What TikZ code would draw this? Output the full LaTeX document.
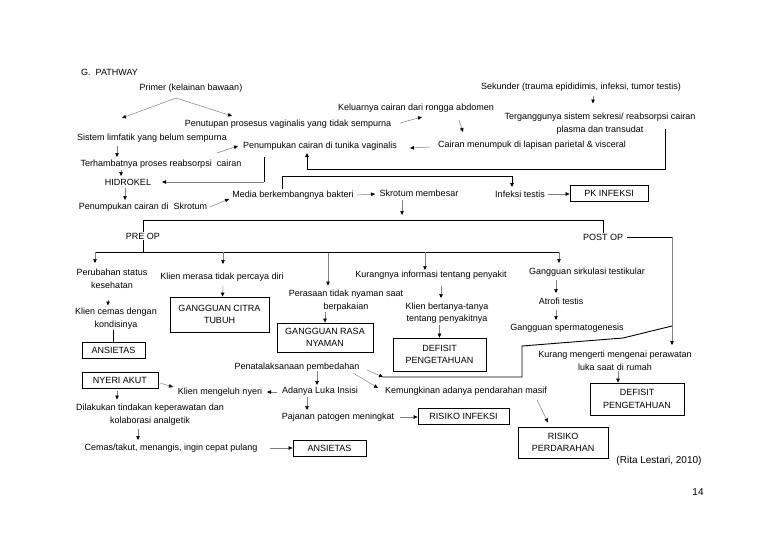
\documentclass[tikz,border=0pt]{standalone}
\usepackage{fontspec}
\setmainfont{Liberation Sans}
\usetikzlibrary{arrows.meta}

\tikzset{
  txt/.style={font=\fontsize{9}{12.5}\selectfont, align=center, inner sep=1pt, text=black},
  kotak/.style 2 args={txt, draw=black, line width=0.8pt, minimum width=#1, minimum height=#2},
  panah/.style={-{Triangle[length=4pt,width=3.5pt,color=black]}},
  arr/.style={panah, draw=black!50, line width=0.5pt},
  garis/.style={draw=black, line width=0.9pt},
}

\begin{document}
\begin{tikzpicture}[x=1pt,y=-1pt]
\path[use as bounding box, fill=white] (0,0) rectangle (768,543);

% bagian atas
\node[txt, anchor=west] (judul) at (80,72) {G.\ \ PATHWAY};
\node[txt] (prim) at (191,88) {Primer (kelainan bawaan)};
\node[txt] (sek) at (581,87) {Sekunder (trauma epididimis, infeksi, tumor testis)};
\node[txt] (kel) at (416,108) {Keluarnya cairan dari rongga abdomen};
\node[txt] (terg) at (600,123.5) {Terganggunya sistem sekresi/ reabsorpsi cairan\\plasma dan transudat};
\node[txt] (penut) at (288,124) {Penutupan prosesus vaginalis yang tidak sempurna};
\node[txt] (sist) at (152,138) {Sistem limfatik yang belum sempurna};
\node[txt] (tunika) at (320,146) {Penumpukan cairan di tunika vaginalis};
\node[txt] (cair) at (532,145) {Cairan menumpuk di lapisan parietal \& visceral};
\node[txt] (terh) at (161,164) {Terhambatnya proses reabsorpsi\ \ cairan};
\node[txt] (hidro) at (128,182) {HIDROKEL};
\node[txt] (media) at (293,195) {Media berkembangnya bakteri};
\node[txt] (skrot) at (419,193) {Skrotum membesar};
\node[txt] (infek) at (520,194) {Infeksi testis};
\node[kotak={78pt}{16pt}] (pk) at (609,193) {PK INFEKSI};
\node[txt] (penskr) at (143,207) {Penumpukan cairan di\ \ Skrotum};
\node[txt] (preop) at (143,236) {PRE OP};
\node[txt] (postop) at (603,237) {POST OP};

% pre op
\node[txt] (perub) at (112,279) {Perubahan status\\kesehatan};
\node[txt] (klpd) at (222,277) {Klien merasa tidak percaya diri};
\node[txt] (kuri) at (431,275) {Kurangnya informasi tentang penyakit};
\node[txt] (peras) at (346,300.5) {Perasaan tidak nyaman saat\\berpakaian};
\node[txt] (cemas) at (116,318.5) {Klien cemas dengan\\kondisinya};
\node[kotak={99pt}{35pt}] (citra) at (219.5,314.5) {GANGGUAN CITRA\\TUBUH};
\node[txt] (bertanya) at (447,313) {Klien bertanya-tanya\\tentang penyakitnya};
\node[kotak={96pt}{29pt}] (rasa) at (325,337.5) {GANGGUAN RASA\\NYAMAN};
\node[kotak={63pt}{16pt}] (ans1) at (113.5,350) {ANSIETAS};
\node[kotak={93pt}{33pt}] (def1) at (439.5,354.5) {DEFISIT\\PENGETAHUAN};

% post op
\node[txt] (sirk) at (587,272) {Gangguan sirkulasi testikular};
\node[txt] (atrofi) at (561,301) {Atrofi testis};
\node[txt] (sperm) at (567,328) {Gangguan spermatogenesis};
\node[txt] (kurang) at (615,361) {Kurang mengerti mengenai perawatan\\luka saat di rumah};
\node[kotak={94pt}{32pt}] (def2) at (637,399) {DEFISIT\\PENGETAHUAN};
\node[txt] (penata) at (297,367) {Penatalaksanaan pembedahan};
\node[kotak={76pt}{16pt}] (nyeri) at (120,380) {NYERI AKUT};
\node[txt] (keluh) at (220,392) {Klien mengeluh nyeri};
\node[txt] (adanya) at (320,391) {Adanya Luka Insisi};
\node[txt] (kemung) at (466,391) {Kemungkinan adanya pendarahan masif};
\node[txt] (dilak) at (150,414.5) {Dilakukan tindakan keperawatan dan\\kolaborasi analgetik};
\node[txt] (pajan) at (338,417) {Pajanan patogen meningkat};
\node[kotak={91pt}{16pt}] (rinf) at (463.5,416) {RISIKO INFEKSI};
\node[kotak={90pt}{31pt}] (rper) at (563,442.5) {RISIKO\\PERDARAHAN};
\node[txt] (cemas2) at (171,448) {Cemas/takut, menangis, ingin cepat pulang};
\node[kotak={73pt}{16pt}] (ans2) at (329.5,448) {ANSIETAS};
\node[txt, font=\fontsize{10}{12}\selectfont] (sumber) at (659,461) {(Rita Lestari, 2010)};
\node[txt, font=\fontsize{10}{12}\selectfont] (hal) at (698,492) {14};

% panah bagian atas
\draw[arr] ([shift={(-15,10)}]prim.center) -- ([shift={(-30,-20)}]sist.center);
\draw[arr] ([shift={(-15,10)}]prim.center) -- ([shift={(-56,-8)}]penut.center);
\draw[arr] ([shift={(112,-1)}]penut.center) -- ([shift={(6,9)}]kel.center);
\draw[arr] ([shift={(43,12)}]kel.center) -- ([shift={(-69,-13)}]cair.center);
\draw[arr] ([shift={(12,9)}]sek.center) -- ([shift={(-7,-20)}]terg.center);
\draw[arr] ([shift={(-102,2)}]cair.center) -- ([shift={(90,2)}]tunika.center);
\draw[garis, panah] ([shift={(65,5)}]terg.center) -- ++(0,41) -| ([shift={(-13,7)}]tunika.center);
\draw[garis] ([shift={(-56,11)}]tunika.center) -- ([shift={(-56,36)}]tunika.center) coordinate (belok);
\draw[arr] (belok) -- ([shift={(34,0)}]hidro.center);
\draw[arr] ([shift={(56,-11)}]terh.center) -- ([shift={(-82,0)}]tunika.center);
\draw[arr] ([shift={(-35,8)}]sist.center) -- ([shift={(-44,-7)}]terh.center);
\draw[arr] ([shift={(-40,6)}]terh.center) -- ([shift={(-7,-6)}]hidro.center);
\draw[arr] ([shift={(-3,6)}]hidro.center) -- ([shift={(-18,-7)}]penskr.center);
\draw[arr] ([shift={(67,0)}]penskr.center) -- ([shift={(-64,4)}]media.center);
\draw[arr] ([shift={(64,0)}]media.center) -- ([shift={(-44,1)}]skrot.center);
\draw[garis, panah] ([shift={(-11,-6)}]media.center) -- ++(0,-13) -| ([shift={(-8,-7)}]infek.center);
\draw[arr] ([shift={(28,0)}]infek.center) -- (pk.west |- infek.center);

% cabang pre op / post op
\draw[arr] ([shift={(-17,7)}]skrot.center) -- ++(0,15);
\draw[garis] (preop.north) -- ++(0,-11) -| (postop.north);
\draw[garis] (preop.south) |- ([shift={(-17,-27)}]perub.center) coordinate (kiri);
\draw[garis] (kiri) -- ([shift={(-28,-20)}]sirk.center);
\draw[arr] (kiri) -- ([shift={(-17,-16)}]perub.center);
\draw[arr] ([shift={(1,-25)}]klpd.center) -- ([shift={(1,-13)}]klpd.center);
\draw[arr] ([shift={(-18,-48)}]peras.center) -- ([shift={(-18,-15)}]peras.center);
\draw[arr] ([shift={(-6,-23)}]kuri.center) -- ([shift={(-6,-5)}]kuri.center);
\draw[arr] ([shift={(-28,-20)}]sirk.center) -- ([shift={(-28,-9)}]sirk.center);

% pre op
\draw[arr] ([shift={(-4,21)}]perub.center) -- ([shift={(-8,-13)}]cemas.center);
\draw[garis] (ans1.north) -- (ans1.north |- cemas.south);
\draw[arr] ([shift={(1,9)}]klpd.center) -- ([shift={(3,0)}]citra.north);
\draw[arr] (rasa.north |- peras.south) -- (rasa.north);
\draw[arr] ([shift={(10,11)}]kuri.center) -- ([shift={(-6,-15)}]bertanya.center);
\draw[arr] (def1.north |- bertanya.south) -- (def1.north);

% post op
\draw[arr] ([shift={(-31,8)}]sirk.center) -- ([shift={(-5,-8)}]atrofi.center);
\draw[arr] ([shift={(-5,9)}]atrofi.center) -- ([shift={(-11,-8)}]sperm.center);
\draw[garis] ([xshift=3pt]postop.east) -- ([shift={(57,-124)}]kurang.center) coordinate (pojok);
\draw[arr] (pojok) -- ([shift={(57,-16)}]kurang.center);
\draw[garis] ([shift={(57,-35)}]kurang.center) -- ++(-49,12) -- ++(-101,8) |- ([shift={(86,10)}]penata.center);
\draw[arr] ([shift={(70,3)}]penata.center) -- ([shift={(86,10)}]penata.center);
\draw[arr] ([shift={(20,4)}]penata.center) -- ([shift={(-3,-6)}]adanya.center);
\draw[arr] ([shift={(56,6)}]penata.center) -- ([shift={(-88,-3)}]kemung.center);
\draw[arr] ([shift={(-43,1)}]adanya.center) -- ([shift={(47,0)}]keluh.center);
\draw[arr] ([shift={(40,3)}]nyeri.center) -- ([shift={(-47,-5)}]keluh.center);
\draw[arr] ([shift={(-3,11)}]nyeri.center) -- ([shift={(-33,-15)}]dilak.center);
\draw[arr] ([shift={(-12,14)}]dilak.center) -- ([shift={(-33,-8)}]cemas2.center);
\draw[arr] ([shift={(99,0)}]cemas2.center) -- (ans2.west);
\draw[arr] ([shift={(-13,6)}]adanya.center) -- ([shift={(-31,-7)}]pajan.center);
\draw[arr] ([shift={(62,0)}]pajan.center) -- (rinf.west |- pajan.center);
\draw[arr] ([shift={(71,9)}]kemung.center) -- ([shift={(-15,-20)}]rper.center);
\draw[arr] ([shift={(3,10)}]kurang.center) -- ([shift={(-19,0)}]def2.north);
\end{tikzpicture}
\end{document}
